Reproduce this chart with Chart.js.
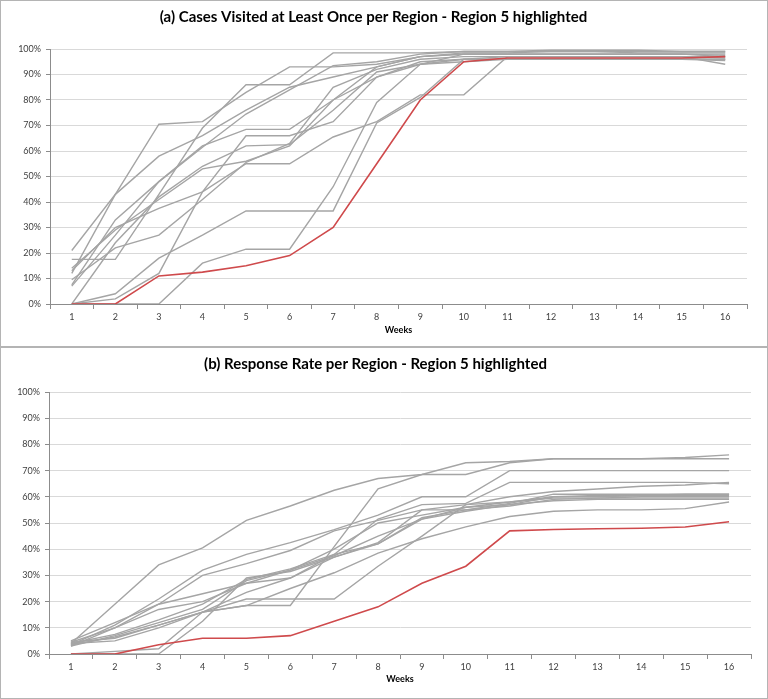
<!DOCTYPE html>
<html>
<head>
<meta charset="utf-8">
<script src="https://cdn.jsdelivr.net/npm/chart.js@4"></script>
<style>
  html, body { margin: 0; padding: 0; background: #fff; }
  .panel { position: absolute; left: 0; width: 768px; box-sizing: border-box; border: 1px solid #b4b4b4; }
  #pa { top: 0; height: 347px; }
  #pb { top: 347px; height: 352px; }
  canvas { position: absolute; left: 0; top: 0; }
</style>
</head>
<body>
<div class="panel" id="pa"></div>
<div class="panel" id="pb"></div>
<canvas id="chart-a" style="top:0px"></canvas>
<canvas id="chart-b" style="top:347px"></canvas>
<script>
// weeks on the x axis
const weeks = ['1','2','3','4','5','6','7','8','9','10','11','12','13','14','15','16'];
const yTicks = [0,10,20,30,40,50,60,70,80,90,100];

// (a) cases visited at least once, % — region 5 plus the other regions
const visitedRegion5 = [0,0,11,12.5,15,19,30,55,80,95,96.5,96.5,96.5,96.5,96.5,97];
const visitedOthers = [
  [21,43,58,66,76,85,89,93,97,98.5,98.5,99,99,98.5,98.5,98.5],
  [12,43,70.5,71.5,83,93,93,94,97,98,98,98,98,98,98,98],
  [17.5,17.5,43,69,86,86,98.5,98.5,98.5,99,99,99,99,99,99,99],
  [7,27,48,62,68.5,68.5,80,93,97,98,98,98,98,98,98,97.5],
  [9.5,22,27,41,55.5,63,85,92,96,97,97,97,97,97,97,96.5],
  [7.5,33,48,61.5,74.5,84,93.5,95,98,99,99,99.5,99.5,99.5,99,99],
  [0,24,42,54,62,62.5,76,91,94,96,96,96,96,96,96,96],
  [0,4,18,27,36.5,36.5,36.5,71,81,96,97,97,97,97,97,97],
  [0,0,0,16,21.5,21.5,46,79,94,98,98,98,98,98,98,97],
  [13,30,37.5,44,55,55,65.5,71.5,82,82,97,97,97,97,97,94],
  [0,2,12,44,66,66,71.5,89,95,96,96,96,96,96,96,95.5],
  [14,29,41,53,56,62,80,89,94,95,96,96,96,96,96,96]
];

// (b) response rate, % — region 5 plus the other regions
const responseRegion5 = [0,0,3.5,6,6,7,12.5,18,27,33.5,47,47.5,47.8,48,48.5,50.5];
const responseOthers = [
  [4,19,34,40.5,51,56.5,62.5,67,68.5,73,73.5,74.5,74.5,74.5,75,76],
  [4.5,6,11,16,18.5,18.5,41,63,68.5,68.5,73,74.5,74.5,74.5,74.5,74.5],
  [3.5,11,21,32,38,42.5,47.5,53,60,60,70,70,70,70,70,70],
  [5,12,19,23,27,29,38,51.5,57,57.5,65.5,65.5,65.5,65.5,65.5,65],
  [3,10,19,30,34.5,39.5,47,51,55,57,60,62,63,64,64.5,65.5],
  [4,7.5,13,19,28.5,32.5,38,42,52,55,57.5,61,61,61,61,61],
  [3,7,12,17,28,32,37.5,45,51.5,56,57,60,60,60.5,60.5,60.5],
  [3.5,6.5,11,16,23.5,29,37,42.5,55,55,56.5,59,59.5,60,60,60],
  [0,1,2,16,21,21,21,33.5,45,57,58,59.5,59.5,59.5,59.5,59.5],
  [0,0,0,12.5,29,31.5,37,42,51.5,54.5,57,58.5,59,59,59,59],
  [4,5,10,16,18.5,25,31,38.5,44,48.5,52.5,54.5,55,55,55.5,58],
  [4.5,10,17,20,27,32,40,50,53,56,58,60,60.5,60.5,61,61]
];

const GREY = '#a5a5a5';
const RED = '#cf4a4c';
const FONT = 'Lato, "Liberation Sans", sans-serif';

function makeChart(id, w, h, title, highlight, others, box){
  const cv = document.getElementById(id);
  cv.width = w; cv.height = h;
  cv.style.width = w + 'px'; cv.style.height = h + 'px';
  const datasets = [{
    label: 'Region 5', data: highlight, borderColor: RED, borderWidth: 1.6,
    pointRadius: 0, tension: 0, fill: false
  }];
  others.forEach((d, i) => datasets.push({
    label: 'Region ' + (i < 4 ? i + 1 : i + 2), data: d, borderColor: GREY,
    borderWidth: 1.4, pointRadius: 0, tension: 0, fill: false
  }));
  return new Chart(cv, {
    type: 'line',
    data: { labels: weeks, datasets },
    options: {
      responsive: false, animation: false, devicePixelRatio: 1,
      layout: { padding: { left: 0, right: box.right, top: 0, bottom: 0 } },
      plugins: {
        legend: { display: false }, tooltip: { enabled: false },
        title: {
          display: true, text: title, color: '#000',
          font: { family: FONT, size: 15, weight: 'bold' },
          padding: { top: box.titleTop, bottom: box.titleBottom }
        }
      },
      scales: {
        x: {
          offset: true,
          grid: { offset: true, drawOnChartArea: false, drawTicks: true, tickLength: 5, color: '#8c8c8c' },
          border: { color: '#8c8c8c' },
          ticks: { color: '#404040', font: { family: FONT, size: 9 }, padding: 3, maxRotation: 0 },
          title: { display: true, text: 'Weeks', color: '#000', font: { family: FONT, size: 9, weight: 'bold' },
                   padding: { top: 0, bottom: box.xTitleBottom } },
          afterFit: s => { s.height = box.xHeight; }
        },
        y: {
          min: 0, max: 100,
          afterBuildTicks: s => { s.ticks = yTicks.map(v => ({ value: v })); },
          grid: { color: '#d9d9d9', tickColor: '#8c8c8c', tickLength: 4 },
          border: { color: '#8c8c8c' },
          ticks: { color: '#404040', font: { family: FONT, size: 9 }, padding: 5, callback: v => v + '%' },
          afterFit: s => { s.width = box.yWidth; }
        }
      }
    }
  });
}

makeChart('chart-a', 768, 346, '(a) Cases Visited at Least Once per Region - Region 5 highlighted',
  visitedRegion5, visitedOthers,
  { right: 21, titleTop: 8, titleBottom: 23, xHeight: 42, xTitleBottom: 11, yWidth: 50 });
makeChart('chart-b', 768, 351, '(b) Response Rate per Region - Region 5 highlighted',
  responseRegion5, responseOthers,
  { right: 17, titleTop: 8, titleBottom: 19, xHeight: 44, xTitleBottom: 14, yWidth: 49 });
</script>
</body>
</html>
